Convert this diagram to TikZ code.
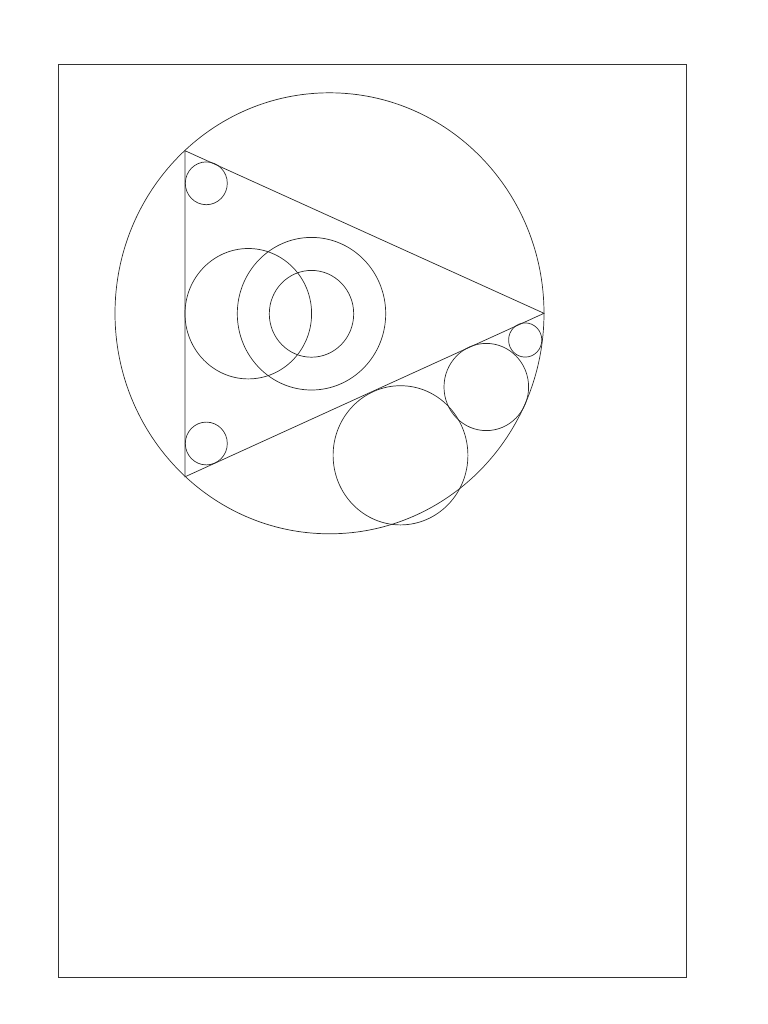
\documentclass[tikz,border=0pt]{standalone}
\begin{document}
\begin{tikzpicture}[x=0.03cm,y=-0.03cm,
  ln/.style={line width=0.6pt, draw=black!85},
  circ/.style={ln}]
\useasboundingbox (0,0) rectangle (768,1024);
\def\k{1.028}
% frame
\draw[line width=0.8pt, draw=black!80] (58.5,64) rectangle (686,977.5);
% big circle
\draw[circ] (329.5,313.3) ellipse [x radius=214.5, y radius=220.5];
% triangle
\coordinate (A) at (185,150.7);
\coordinate (B) at (185,476.8);
\coordinate (C) at (544,313.3);
\draw[ln, line join=miter] (A) -- (B) -- (C) -- cycle;
% corner circles
\draw[circ] (206.3,183.3) ellipse [x radius=21, y radius=21.4];
\draw[circ] (206.3,443.5) ellipse [x radius=21, y radius=21.4];
\draw[circ] (525.2,340) ellipse [x radius=16.6, y radius=17.1];
% inner circles
\draw[circ] (248.3,313.7) ellipse [x radius=63.3, y radius=65.2];
\draw[circ] (311.5,313.7) ellipse [x radius=74.2, y radius=76.3];
\draw[circ] (311.5,313.8) ellipse [x radius=42.2, y radius=43.4];
% lower chain
\draw[circ] (486.3,387) ellipse [x radius=42.3, y radius=43.6];
\draw[circ] (400.5,455.3) ellipse [x radius=67.4, y radius=69.6];
\end{tikzpicture}
\end{document}
